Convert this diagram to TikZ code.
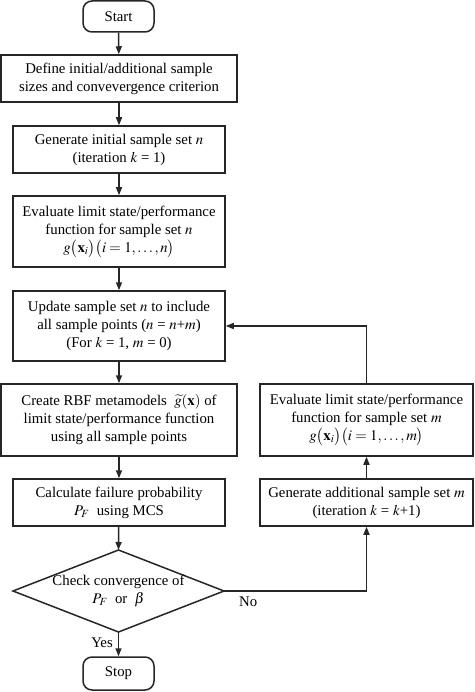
\documentclass[tikz,border=0pt]{standalone}
\usepackage{mathptmx}
\usepackage{fontspec}
\setmainfont{Liberation Serif}
\usetikzlibrary{arrows.meta}
\begin{document}
\begin{tikzpicture}[x=1pt,y=-1pt,
  font=\fontsize{14.8}{18}\selectfont,
  box/.style={draw=black!85,line width=1.5pt,align=center,inner sep=0pt},
  term/.style={box,rounded corners=9pt},
  arr/.style={draw=black!85,line width=1.5pt,-{Triangle[length=8pt,width=6pt]}},
  ln/.style={draw=black!85,line width=1.5pt}]
\useasboundingbox (0,0) rectangle (474,692);
\node[term,minimum width=71pt,minimum height=31pt] (start) at (118.5,16.5) {Start};
\node[box,minimum width=236pt,minimum height=47pt] (b1) at (119,78.5) {Define initial/additional sample\\sizes and convevergence criterion};
\node[box,minimum width=212pt,minimum height=47pt] (b2) at (119,149.5) {Generate initial sample set $n$\\(iteration $k$ = 1)};
\node[box,minimum width=212pt,minimum height=71pt] (b3) at (119,231.5) {Evaluate limit state/performance\\function for sample set $n$\\$g\bigl(\mathbf{x}_i\bigr)\bigl(i=1,\ldots,n\bigr)$};
\node[box,minimum width=212pt,minimum height=70pt] (b4) at (119,326) {Update sample set $n$ to include\\all sample points ($n$ = $n$+$m$)\\(For $k$ = 1, $m$ = 0)};
\node[box,minimum width=236pt,minimum height=72pt] (b5) at (119,420) {Create RBF metamodels \ $\widetilde{g}(\mathbf{x})$ of\\limit state/performance function\\using all sample points};
\node[box,minimum width=212pt,minimum height=47pt] (b6) at (119,502.5) {Calculate failure probability\\$P_F$ \ using MCS};
\node[box,minimum width=213pt,minimum height=72pt] (ba) at (366.5,420) {Evaluate limit state/performance\\function for sample set $m$\\$g\bigl(\mathbf{x}_i\bigr)\bigl(i=1,\ldots,m\bigr)$};
\node[box,minimum width=213pt,minimum height=47pt] (bb) at (366.5,502.5) {Generate additional sample set $m$\\(iteration $k$ = $k$+1)};
% decision
\coordinate (dt) at (118.5,550);
\coordinate (dr) at (224,591);
\coordinate (db) at (118.5,632);
\coordinate (dl) at (13,591);
\draw[ln,line join=miter] (dt) -- (dr) -- (db) -- (dl) -- cycle;
\node[align=center,inner sep=0pt] (dec) at (118.5,591) {Check convergence of\\$P_F$ \ or \ $\beta$};
\node[term,minimum width=71pt,minimum height=33pt] (stop) at (118.5,673.5) {Stop};
% connectors
\draw[arr] (start) -- (b1);
\draw[arr] (b1) -- (b2);
\draw[arr] (b2) -- (b3);
\draw[arr] (b3) -- (b4);
\draw[arr] (b4) -- (b5);
\draw[arr] (b5) -- (b6);
\draw[arr] (b6) -- (dt);
\draw[arr] (db) -- (stop);
\draw[arr] (dr) -| (bb.south);
\draw[arr] (bb) -- (ba);
\draw[arr] (ba.north) |- (b4.east);
\node[anchor=east,inner sep=0pt] (yes) at (113,643) {Yes};
\node[anchor=west,inner sep=0pt] (no) at (239,602) {No};
\end{tikzpicture}
\end{document}
